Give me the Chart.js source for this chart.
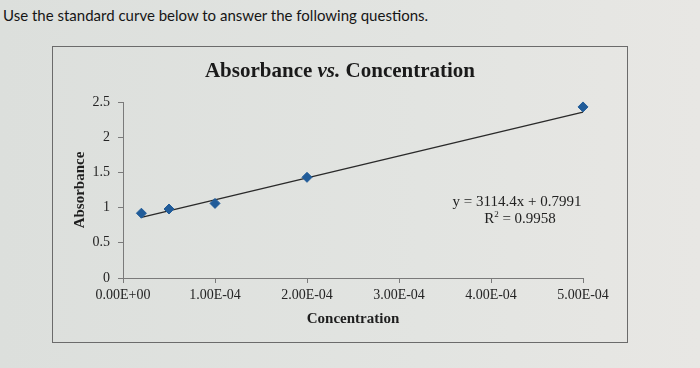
<!DOCTYPE html>
<html>
<head>
<meta charset="utf-8">
<script src="https://cdn.jsdelivr.net/npm/chart.js@4"></script>
<style>
  html, body { margin: 0; padding: 0; }
  body {
    width: 700px; height: 368px; position: relative; overflow: hidden;
    background: linear-gradient(90deg, #dcdfdc 0%, #e2e4e1 60%, #e8e7e4 100%);
    font-family: "Liberation Serif", serif; color: #222;
  }
  #intro {
    position: absolute; left: 3px; top: 6px;
    font: 15px Lato, sans-serif; color: #161616;
  }
  #box {
    position: absolute; left: 52px; top: 46px; width: 576px; height: 297px;
    border: 1px solid #6b6b6b; box-sizing: border-box;
  }
  #title {
    position: absolute; left: 52px; width: 576px; top: 58px; text-align: center;
    font: bold 21px "Liberation Serif", serif; color: #1a1a1a;
  }
  .eq {
    position: absolute; width: 200px; text-align: center;
    font: 15px "Liberation Serif", serif; color: #222;
  }
  canvas { position: absolute; left: 52px; top: 47px; }
</style>
</head>
<body>
<div id="intro">Use the standard curve below to answer the following questions.</div>
<div id="box"></div>
<canvas id="chart" width="576" height="296"></canvas>
<div id="title">Absorbance <i>vs.</i> Concentration</div>
<div class="eq" style="left:417px; top:193px;">y = 3114.4x + 0.7991</div>
<div class="eq" style="left:420px; top:209px;">R<sup style="font-size:9px">2</sup> = 0.9958</div>
<script>
const concentration = [2e-5, 5e-5, 1e-4, 2e-4, 5e-4];
const absorbance = [0.92, 0.98, 1.06, 1.43, 2.43];
const slope = 3114.4;
const intercept = 0.7991;
const xTickValues = [0, 1e-4, 2e-4, 3e-4, 4e-4, 5e-4];
const xTickLabels = ["0.00E+00", "1.00E-04", "2.00E-04", "3.00E-04", "4.00E-04", "5.00E-04"];
const yTickValues = [0, 0.5, 1, 1.5, 2, 2.5];
const yTickLabels = ["0", "0.5", "1", "1.5", "2", "2.5"];

const trendX = [concentration[0], concentration[concentration.length - 1]];

const serif = "'Liberation Serif', serif";

new Chart(document.getElementById("chart"), {
  type: "scatter",
  data: {
    datasets: [
      {
        label: "Absorbance",
        data: concentration.map((c, i) => ({x: c, y: absorbance[i]})),
        pointStyle: "rectRot",
        pointRadius: 5,
        backgroundColor: "#215c99",
        borderColor: "#215c99",
        clip: false,
        order: 1
      },
      {
        label: "Linear fit",
        type: "line",
        data: trendX.map(x => ({x: x, y: slope * x + intercept})),
        borderColor: "#2a2a2a",
        borderWidth: 1.5,
        pointRadius: 0,
        fill: false,
        clip: false,
        order: 2
      }
    ]
  },
  options: {
    responsive: false,
    animation: false,
    layout: { padding: { left: 0, right: 45, top: 55, bottom: 0 } },
    plugins: {
      legend: { display: false },
      tooltip: { enabled: false }
    },
    scales: {
      x: {
        type: "linear",
        min: 0,
        max: 5e-4,
        afterBuildTicks: s => { s.ticks = xTickValues.map(v => ({value: v})); },
        afterFit: s => { s.height = 65; },
        border: { color: "#7a7a7a", width: 1 },
        grid: { drawOnChartArea: false, tickLength: 5, color: "#7a7a7a" },
        ticks: {
          padding: 4,
          maxRotation: 0,
          color: "#242424",
          font: { family: serif, size: 14 },
          callback: (v, i) => xTickLabels[i]
        },
        title: {
          display: true,
          text: "Concentration",
          color: "#1e1e1e",
          font: { family: serif, size: 15, weight: "bold" },
          padding: { top: 0, bottom: 15 }
        }
      },
      y: {
        min: 0,
        max: 2.5,
        afterBuildTicks: s => { s.ticks = yTickValues.map(v => ({value: v})); },
        afterFit: s => { s.width = 71; },
        border: { color: "#7a7a7a", width: 1 },
        grid: { drawOnChartArea: false, tickLength: 5, color: "#7a7a7a" },
        ticks: {
          padding: 8,
          color: "#242424",
          font: { family: serif, size: 14 },
          callback: (v, i) => yTickLabels[i]
        },
        title: {
          display: true,
          text: "Absorbance",
          color: "#1e1e1e",
          font: { family: serif, size: 15, weight: "bold" },
          padding: { top: 19, bottom: 0 }
        }
      }
    }
  }
});
</script>
</body>
</html>
